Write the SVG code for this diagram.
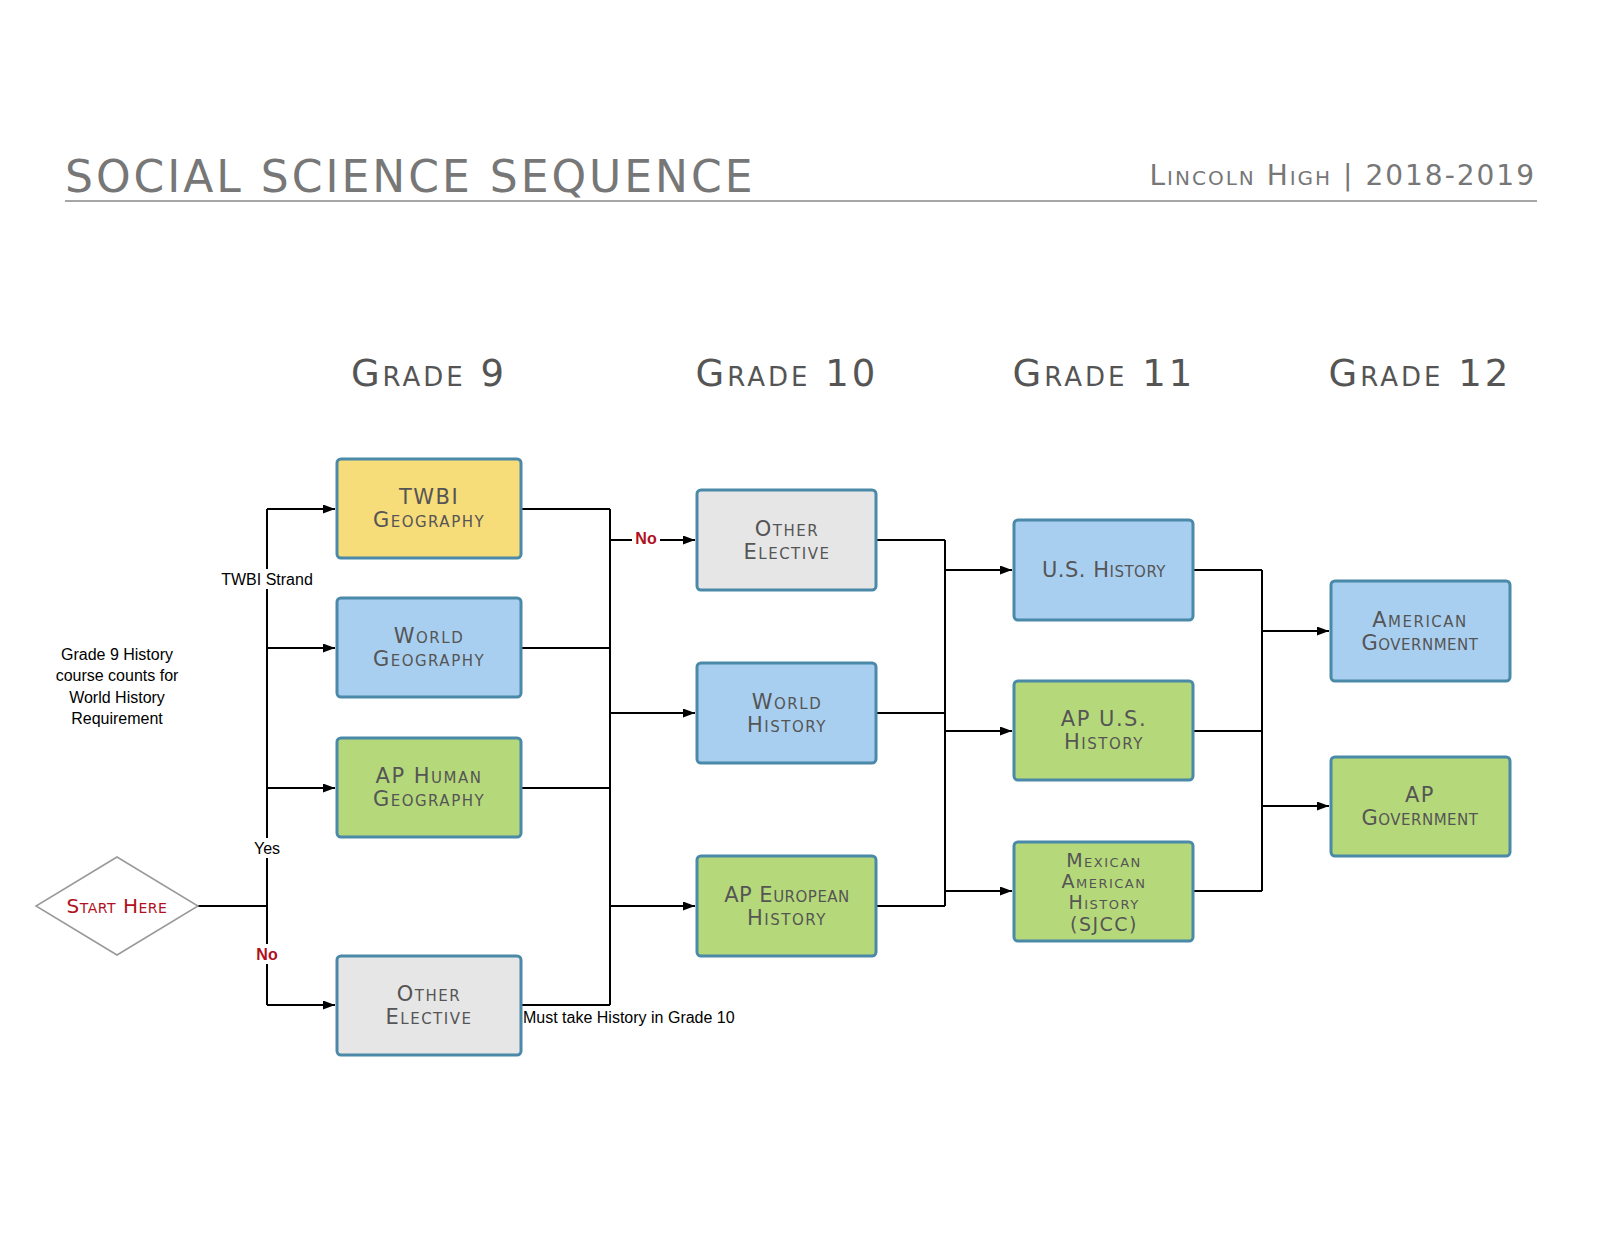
<svg xmlns="http://www.w3.org/2000/svg" width="1600" height="1236" viewBox="0 0 1600 1236">
<style>
.n{stroke:#4a8aa8;stroke-width:3}
.y{fill:#f7dc7a}.b{fill:#a9cff0}.g{fill:#b5d97a}.e{fill:#e6e6e6}
.t{font-family:"DejaVu Sans",sans-serif;font-variant:small-caps;font-size:21px;fill:#555;text-anchor:middle;letter-spacing:1.5px}
.m{font-size:19px}
.h{font-family:"DejaVu Sans",sans-serif;font-variant:small-caps;font-size:37px;fill:#555;text-anchor:middle;letter-spacing:3px}
.l{font-family:"Liberation Sans",Arial,sans-serif;font-size:16px;fill:#000;text-anchor:middle}
.c{fill:none;stroke:#000;stroke-width:2}
</style>
<defs><marker id="a" markerWidth="12" markerHeight="9" refX="12" refY="4.5" orient="auto" markerUnits="userSpaceOnUse"><path d="M0,0L12,4.5L0,9z" fill="#000"/></marker></defs>
<rect width="1600" height="1236" fill="#fff"/>
<text x="65" y="192" font-family="DejaVu Sans,sans-serif" font-size="44" fill="#777" letter-spacing="3">SOCIAL SCIENCE SEQUENCE</text>
<text x="1536" y="185" text-anchor="end" font-family="DejaVu Sans,sans-serif" font-variant="small-caps" font-size="28" fill="#777" letter-spacing="2">Lincoln High  |  2018-2019</text>
<line x1="65" y1="201" x2="1537" y2="201" stroke="#888" stroke-width="1.5"/>
<text class="h" x="429" y="386">Grade 9</text>
<text class="h" x="787" y="386">Grade 10</text>
<text class="h" x="1104" y="386">Grade 11</text>
<text class="h" x="1420" y="386">Grade 12</text>
<g id="connectors">
<path class="c" d="M198,906H267M267,509V1005"/>
<path class="c" marker-end="url(#a)" d="M267,509H335"/>
<path class="c" marker-end="url(#a)" d="M267,648H335"/>
<path class="c" marker-end="url(#a)" d="M267,788H335"/>
<path class="c" marker-end="url(#a)" d="M267,1005H335"/>
<path class="c" d="M521,509H610M521,648H610M521,788H610M521,1005H610M610,509V1005"/>
<path class="c" marker-end="url(#a)" d="M610,540H695"/>
<path class="c" marker-end="url(#a)" d="M610,713H695"/>
<path class="c" marker-end="url(#a)" d="M610,906H695"/>
<path class="c" d="M876,540H945M876,713H945M876,906H945M945,540V906"/>
<path class="c" marker-end="url(#a)" d="M945,570H1012"/>
<path class="c" marker-end="url(#a)" d="M945,731H1012"/>
<path class="c" marker-end="url(#a)" d="M945,891H1012"/>
<path class="c" d="M1193,570H1262M1193,731H1262M1193,891H1262M1262,570V891"/>
<path class="c" marker-end="url(#a)" d="M1262,631H1329"/>
<path class="c" marker-end="url(#a)" d="M1262,806H1329"/>
<rect x="215" y="569" width="104" height="20" fill="#fff"/>
<text class="l" x="267" y="585">TWBI Strand</text>
<rect x="250" y="838" width="34" height="20" fill="#fff"/>
<text class="l" x="267" y="854">Yes</text>
<rect x="252" y="944" width="30" height="20" fill="#fff"/>
<text class="l" x="267" y="960" style="fill:#b01020;font-weight:bold">No</text>
<rect x="632" y="530" width="28" height="20" fill="#fff"/>
<text class="l" x="646" y="544" style="fill:#b01020;font-weight:bold">No</text>
<text class="l" x="523" y="1023" style="text-anchor:start">Must take History in Grade 10</text>
</g>
<g id="note"><text class="l" x="117" y="660">Grade 9 History</text><text class="l" x="117" y="681">course counts for</text><text class="l" x="117" y="703">World History</text><text class="l" x="117" y="724">Requirement</text></g>
<g id="start"><path d="M117,857L198,906L117,955L36,906Z" fill="#fff" stroke="#999" stroke-width="1.5"/><text class="t" x="117" y="913" style="fill:#b01020;font-size:20px;letter-spacing:0.5px">Start Here</text></g>
<g id="twbi"><rect class="n y" x="337" y="459" width="184" height="99" rx="4"/><text class="t" x="429" y="504">TWBI</text><text class="t" x="429" y="527">Geography</text></g>
<g id="wgeo"><rect class="n b" x="337" y="598" width="184" height="99" rx="4"/><text class="t" x="429" y="643">World</text><text class="t" x="429" y="666">Geography</text></g>
<g id="aphg"><rect class="n g" x="337" y="738" width="184" height="99" rx="4"/><text class="t" x="429" y="783">AP Human</text><text class="t" x="429" y="806">Geography</text></g>
<g id="oe9"><rect class="n e" x="337" y="956" width="184" height="99" rx="4"/><text class="t" x="429" y="1001">Other</text><text class="t" x="429" y="1024">Elective</text></g>
<g id="oe10"><rect class="n e" x="697" y="490" width="179" height="100" rx="4"/><text class="t" x="787" y="536">Other</text><text class="t" x="787" y="559">Elective</text></g>
<g id="wh"><rect class="n b" x="697" y="663" width="179" height="100" rx="4"/><text class="t" x="787" y="709">World</text><text class="t" x="787" y="732">History</text></g>
<g id="apeh"><rect class="n g" x="697" y="856" width="179" height="100" rx="4"/><text class="t" x="787" y="902" style="letter-spacing:0.5px">AP European</text><text class="t" x="787" y="925">History</text></g>
<g id="ush"><rect class="n b" x="1014" y="520" width="179" height="100" rx="4"/><text class="t" x="1104" y="577" style="letter-spacing:0.5px">U.S. History</text></g>
<g id="apush"><rect class="n g" x="1014" y="681" width="179" height="99" rx="4"/><text class="t" x="1104" y="726">AP U.S.</text><text class="t" x="1104" y="749">History</text></g>
<g id="mah"><rect class="n g" x="1014" y="842" width="179" height="99" rx="4"/><text class="t m" x="1104" y="867">Mexican</text><text class="t m" x="1104" y="888">American</text><text class="t m" x="1104" y="909">History</text><text class="t m" x="1104" y="931">(SJCC)</text></g>
<g id="ag"><rect class="n b" x="1331" y="581" width="179" height="100" rx="4"/><text class="t" x="1420" y="627">American</text><text class="t" x="1420" y="650" style="letter-spacing:0.5px">Government</text></g>
<g id="apg"><rect class="n g" x="1331" y="757" width="179" height="99" rx="4"/><text class="t" x="1420" y="802">AP</text><text class="t" x="1420" y="825" style="letter-spacing:0.5px">Government</text></g>
</svg>
